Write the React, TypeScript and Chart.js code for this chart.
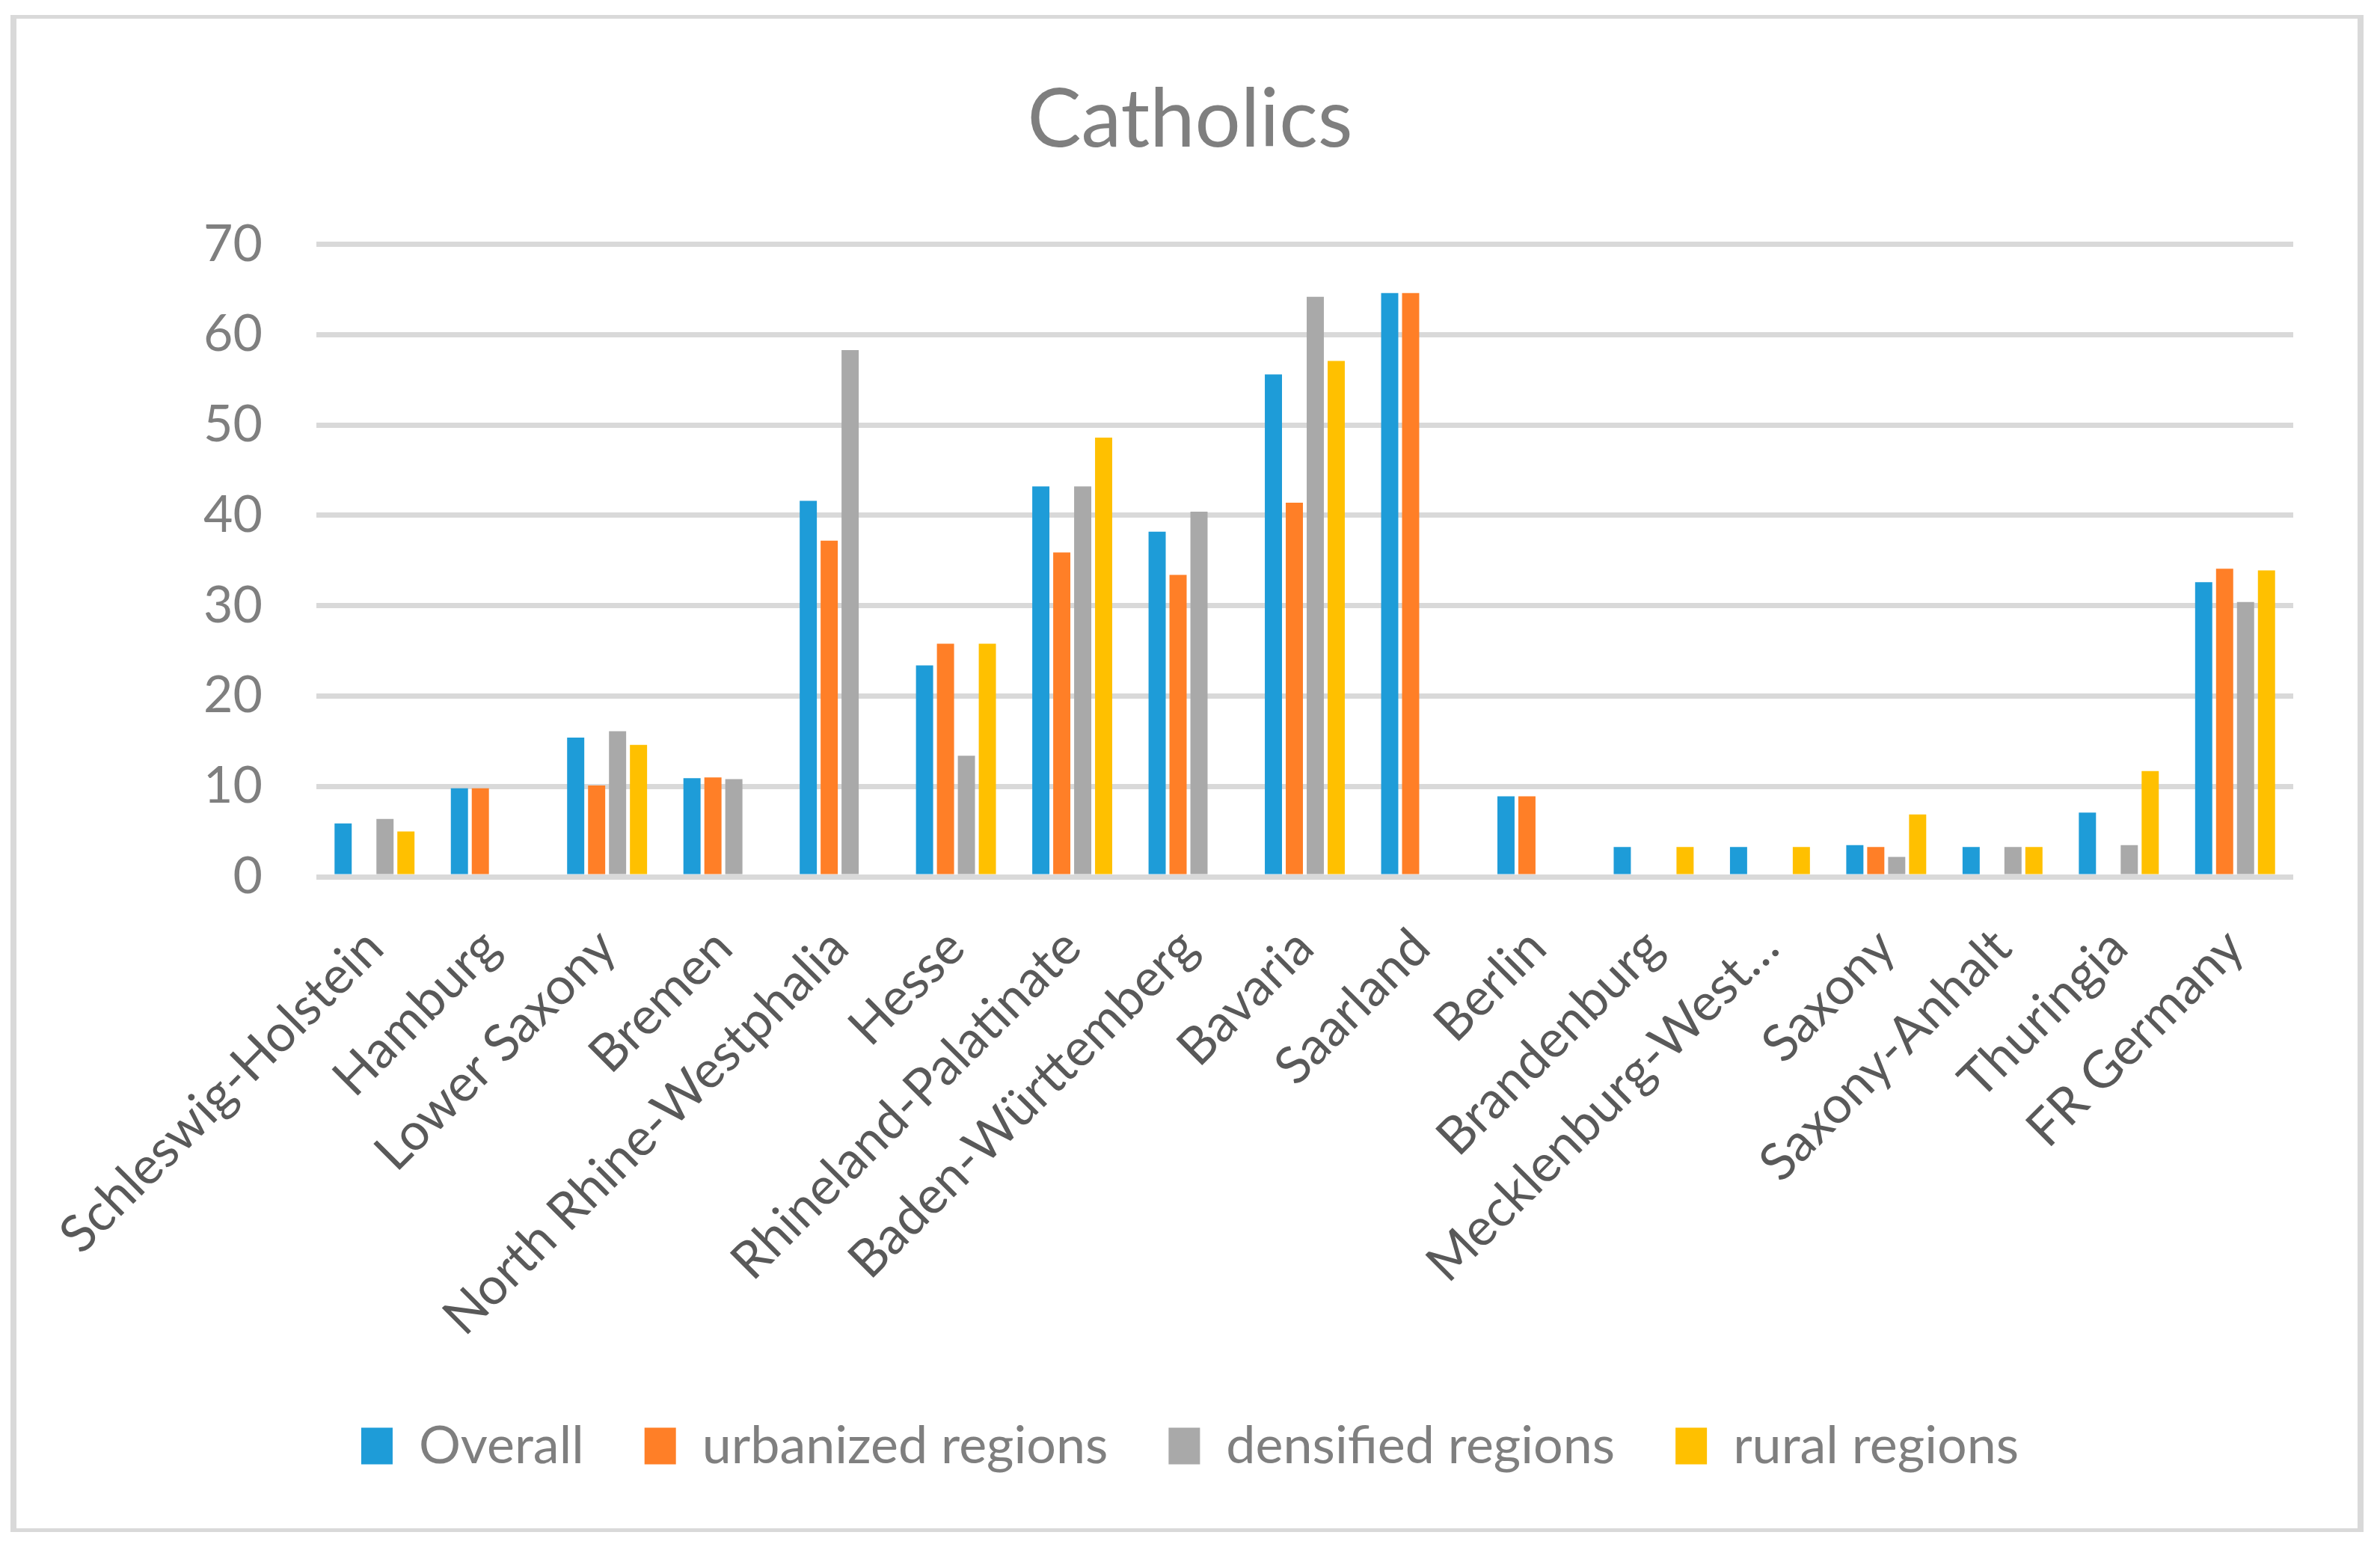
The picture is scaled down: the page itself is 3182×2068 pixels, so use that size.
import React, { useEffect, useRef } from "react";
import { Chart, registerables } from "chart.js";

Chart.register(...registerables);

const categories = [
  "Schleswig-Holstein",
  "Hamburg",
  "Lower Saxony",
  "Bremen",
  "North Rhine-Westphalia",
  "Hesse",
  "Rhineland-Palatinate",
  "Baden-Württemberg",
  "Bavaria",
  "Saarland",
  "Berlin",
  "Brandenburg",
  "Mecklenburg-West…",
  "Saxony",
  "Saxony-Anhalt",
  "Thuringia",
  "FR Germany",
];

const seriesNames = ["Overall", "urbanized regions", "densified regions", "rural regions"];

const overall = [5.9, 9.8, 15.4, 10.9, 41.6, 23.4, 43.2, 38.2, 55.6, 64.6, 8.9, 3.3, 3.3, 3.5, 3.3, 7.1, 32.6];
const urbanized = [null, 9.8, 10.1, 11.0, 37.2, 25.8, 35.9, 33.4, 41.4, 64.6, 8.9, null, null, 3.3, null, null, 34.1];
const densified = [6.4, null, 16.1, 10.8, 58.3, 13.4, 43.2, 40.4, 64.2, null, null, null, null, 2.2, 3.3, 3.5, 30.4];
const rural = [5.0, null, 14.6, null, null, 25.8, 48.6, null, 57.1, null, null, 3.3, 3.3, 6.9, 3.3, 11.7, 33.9];

const yTicks = [0, 10, 20, 30, 40, 50, 60, 70];

const colors = ["#1E9CD8", "#FF7F27", "#A9A9A9", "#FFC000"];

const FONT = "Lato";

export default function App() {
  const ref = useRef<HTMLCanvasElement | null>(null);

  useEffect(() => {
    if (!ref.current) return;
    const values = [overall, urbanized, densified, rural];
    const chart = new Chart(ref.current, {
      type: "bar",
      data: {
        labels: categories,
        datasets: seriesNames.map((name, i) => ({
          label: name,
          data: values[i],
          backgroundColor: colors[i],
          borderWidth: 0,
          categoryPercentage: 0.72,
          barPercentage: 0.82,
          yAxisID: "y",
        })),
      },
      options: {
        responsive: false,
        animation: false,
        devicePixelRatio: 1,
        layout: { padding: { top: 0, left: 0, right: 0, bottom: 90 } },
        plugins: {
          title: {
            display: true,
            text: "Catholics",
            color: "#7f7f7f",
            font: { family: FONT, size: 108, weight: "normal" },
            padding: { top: 96, bottom: 101 },
          },
          legend: {
            display: true,
            position: "bottom",
            labels: {
              color: "#7f7f7f",
              font: { family: FONT, size: 70 },
              boxWidth: 42,
              boxHeight: 49,
              padding: 81,
            },
          },
          tooltip: { enabled: false },
        },
        scales: {
          x: {
            grid: { display: false, drawTicks: false },
            border: { display: false },
            ticks: {
              color: "#595959",
              font: { family: FONT, size: 69 },
              minRotation: 45,
              maxRotation: 45,
              autoSkip: false,
              padding: 54,
            },
            afterFit: (scale: any) => {
              scale.height = 645;
            },
          },
          y: {
            min: yTicks[0],
            max: yTicks[yTicks.length - 1],
            grid: { color: "#d9d9d9", lineWidth: 7, drawTicks: false },
            border: { display: false },
            ticks: {
              stepSize: 10,
              color: "#7f7f7f",
              font: { family: FONT, size: 68 },
              padding: 72,
            },
            afterFit: (scale: any) => {
              scale.width = 423;
            },
          },
          yRight: {
            type: "linear",
            position: "right",
            display: true,
            grid: { display: false, drawTicks: false },
            border: { display: false },
            ticks: { display: false },
            afterFit: (scale: any) => {
              scale.width = 116;
            },
          },
        },
      },
    });
    return () => chart.destroy();
  }, []);

  return (
    <div style={{ position: "fixed", left: 0, top: 0, width: 3182, height: 2068, background: "#fff" }}>
      <canvas ref={ref} width={3182} height={2068} style={{ position: "absolute", left: 0, top: 0, width: 3182, height: 2068 }} />
      <div
        style={{
          position: "absolute",
          left: 14,
          top: 20,
          width: 3146,
          height: 2028,
          boxSizing: "border-box",
          borderLeft: "8px solid #d9d9d9",
          borderRight: "8px solid #d9d9d9",
          borderTop: "5px solid #d9d9d9",
          borderBottom: "5px solid #d9d9d9",
          pointerEvents: "none",
        }}
      />
    </div>
  );
}
